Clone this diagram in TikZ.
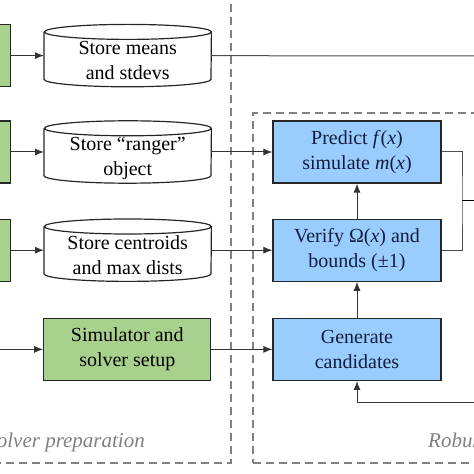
\documentclass[tikz,border=0pt]{standalone}
\usepackage{fontspec}
\setmainfont{Liberation Serif}
\usepackage{tikz}
\usetikzlibrary{shapes, shapes.geometric, arrows, arrows.meta, positioning, fit, calc}
\usepackage{xcolor}
\definecolor{prepGreen}{RGB}{169, 209, 142}
\definecolor{solveBlue}{RGB}{153, 204, 255}
\definecolor{frameGray}{RGB}{128, 128, 128}
\definecolor{inkNavy}{RGB}{20, 30, 60}

\begin{document}
\begin{tikzpicture}[
        x=1pt, y=1pt,
        node distance=34pt and 61pt,
        font=\fontsize{20}{25}\selectfont,
        prepbox/.style={rectangle, draw=black!85, line width=1.2pt, fill=prepGreen, minimum width=167pt, minimum height=62pt, align=center},
        store/.style={rectangle, minimum width=167pt, minimum height=62pt, inner ysep=0pt, text height=55pt, text depth=7pt, align=center},
        storeline/.style={draw=black!85, line width=1.2pt},
        solvebox/.style={rectangle, draw=black!85, line width=1.2pt, fill=solveBlue, text=inkNavy, minimum width=168pt, minimum height=62pt, align=center},
        arrow/.style={->, >={Latex[length=9pt, width=7pt]}, line width=1pt, black!80},
        link/.style={line width=1pt, black!70},
        frame/.style={rectangle, draw=frameGray, dash pattern=on 8pt off 5pt, line width=1.1pt, inner sep=0pt},
        tag/.style={font=\fontsize{21}{25}\selectfont\itshape, text=frameGray, inner sep=0pt}
    ]
        \useasboundingbox (0,0) rectangle (474,474);
        \clip (0,0) rectangle (474,474);

        % dashed frames of the two stages
        \coordinate (prepSW) at (-20,11);
        \coordinate (prepNE) at (231,490);
        \coordinate (robSW) at (253,11);
        \coordinate (robNE) at (490,361);
        \node[frame, fit=(prepSW) (prepNE)] (prepframe) {};
        \node[frame, fit=(robSW) (robNE)] (robframe) {};
        \node[tag, anchor=base east] (preplabel) at (145,27) {Solver preparation};
        \node[tag, anchor=base west] (roblabel) at (428,27) {Robust optimization};

        % optimization column
        \node[solvebox] (predict) at (357,322) {Predict \textit{f}(\textit{x})\\simulate \textit{m}(\textit{x})};
        \node[solvebox, below=35pt of predict] (verify) {Verify Ω(\textit{x}) and\\bounds (±1)};
        \node[solvebox, below=36pt of verify] (generate) {Generate\\candidates};

        % preparation column
        \node[store, left=of predict] (ranger) {Store “ranger”\\object};
        \node[store, left=of verify] (centroids) {Store centroids\\and max dists};
        \node[prepbox, left=of generate] (setup) {Simulator and\\solver setup};
        \node[store, above=34pt of ranger] (means) {Store means\\and stdevs};
        \node[prepbox, left=33pt of means] (prep1) {};
        \node[prepbox, left=33pt of ranger] (prep2) {};
        \node[prepbox, left=33pt of centroids] (prep3) {};
        \coordinate[left=60pt of setup] (simin);

        % cylinder outlines of the stores
        \foreach \s in {means, ranger, centroids} {
            \draw[storeline] ([yshift=-7.5pt]\s.north west) -- ([yshift=7.5pt]\s.south west)
                arc[start angle=180, end angle=360, x radius=83.5pt, y radius=7.5pt]
                -- ([yshift=-7.5pt]\s.north east)
                arc[start angle=0, end angle=360, x radius=83.5pt, y radius=7.5pt];
        }

        \coordinate (join) at (462,273.5);
        \coordinate (joinout) at (490,273.5);
        \coordinate (meansout) at (490,418);
        \coordinate (backin) at (490,71);

        \draw[arrow] (prep1) -- (means);
        \draw[arrow] (prep2) -- (ranger);
        \draw[arrow] (prep3) -- (centroids);
        \draw[arrow] (simin) -- (setup);
        \draw[link] (means) -- (meansout);
        \draw[arrow] (ranger) -- (predict);
        \draw[arrow] (centroids) -- (verify);
        \draw[arrow] (setup) -- (generate);
        \draw[arrow] (generate) -- (verify);
        \draw[arrow] (verify) -- (predict);
        \draw[link] (predict.east) -| (join) |- (verify.east);
        \draw[link, line width=1.8pt, black] (join) -- (joinout);
        \draw[arrow] (backin) -| (generate);
    \end{tikzpicture}
\end{document}
